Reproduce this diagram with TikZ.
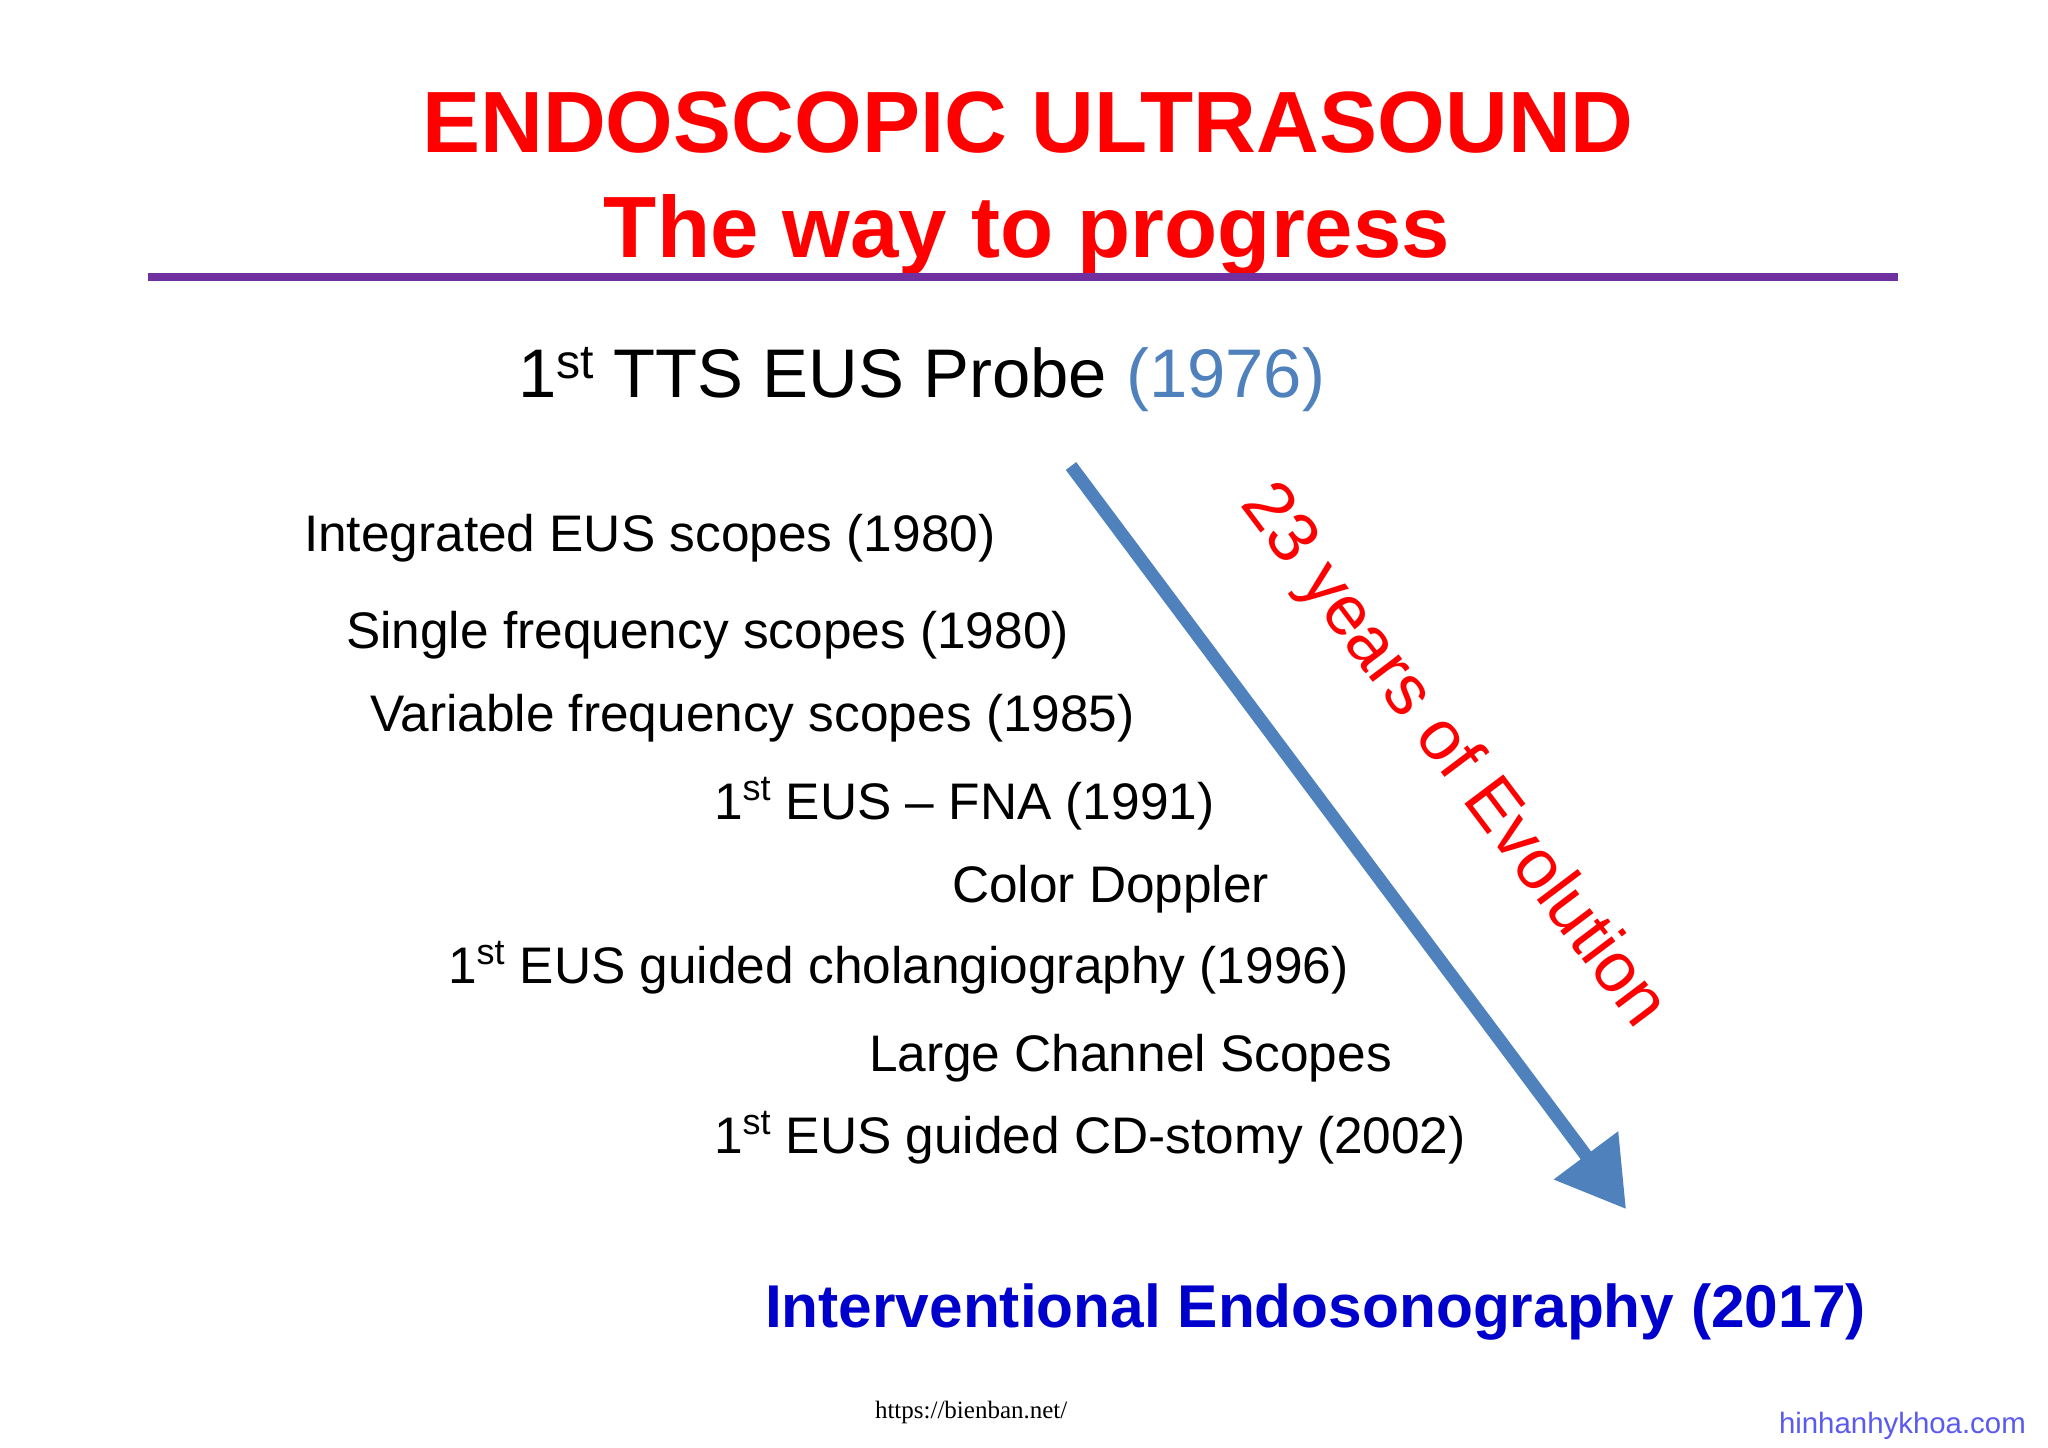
\documentclass[tikz,border=0pt]{standalone}
\usepackage{fontspec}
\setmainfont{Liberation Sans}
\newfontfamily\wmserif{Liberation Serif}
\usetikzlibrary{arrows.meta}
\definecolor{titlered}{RGB}{255,0,0}
\definecolor{rulepurple}{RGB}{112,48,160}
\definecolor{steelblue}{RGB}{79,129,189}
\definecolor{deepblue}{RGB}{0,0,204}
\definecolor{wmblue}{RGB}{90,90,240}
\begin{document}
\begin{tikzpicture}[x=0.5pt,y=-0.5pt,
  every node/.style={inner sep=0pt,outer sep=0pt},
  titletext/.style={text=titlered,font=\bfseries\fontsize{43.5}{50}\selectfont,anchor=base},
  probetext/.style={font=\fontsize{34.4}{40}\selectfont,anchor=base west},
  itemtext/.style={font=\fontsize{25.7}{30}\selectfont,anchor=base west},
  evotext/.style={text=titlered,font=\fontsize{35.3}{40}\selectfont,anchor=center},
  finaltext/.style={text=deepblue,font=\bfseries\fontsize{30.2}{35}\selectfont,anchor=base west},
  ruleline/.style={draw=rulepurple,line width=3.6pt},
  evoarrow/.style={draw=steelblue,line width=6.5pt,-{Triangle[length=33.5pt,width=38.5pt]}},
  wmleft/.style={font=\wmserif\fontsize{12.5}{14}\selectfont,anchor=base west},
  wmright/.style={text=wmblue,font=\fontsize{14.7}{17}\selectfont,anchor=base west}
]
\useasboundingbox (0,0) rectangle (2048,1447);
\fill[white] (0,0) rectangle (2048,1447);

% title
\node[titletext] (t1) at (1028,152) {ENDOSCOPIC ULTRASOUND};
\node[titletext] (t2) at (1027,257) {The way to progress};
\coordinate (ruleL) at (148,277);
\coordinate (ruleR) at (1898,277);
\draw[ruleline] (ruleL) -- (ruleR);

% first probe
\node[probetext] (probe) at (518,397) {1\textsuperscript{st} TTS EUS Probe \textcolor{steelblue}{(1976)}};

% milestones
\node[itemtext] (i1) at (304,551) {Integrated EUS scopes (1980)};
\node[itemtext] (i2) at (346,648) {Single frequency scopes (1980)};
\node[itemtext] (i3) at (370,731) {Variable frequency scopes (1985)};
\node[itemtext] (i4) at (714,819) {1\textsuperscript{st} EUS – FNA (1991)};
\node[itemtext] (i5) at (952,902) {Color Doppler};
\node[itemtext] (i6) at (448,983) {1\textsuperscript{st} EUS guided cholangiography (1996)};
\node[itemtext] (i7) at (869,1071) {Large Channel Scopes};
\node[itemtext] (i8) at (714,1153) {1\textsuperscript{st} EUS guided CD-stomy (2002)};

% arrow and label
\coordinate (arrS) at (1071,466);
\coordinate (arrE) at (1626,1209);
\draw[evoarrow] (arrS) -- (arrE);
\node[evotext,rotate=-53] (evo) at (1452,757) {23 years of Evolution};

% final
\node[finaltext] (final) at (765,1327) {Interventional Endosonography (2017)};

% watermarks
\node[wmleft] (wm1) at (875,1418) {https://bienban.net/};
\node[wmright] (wm2) at (1779,1433) {hinhanhykhoa.com};
\end{tikzpicture}
\end{document}
